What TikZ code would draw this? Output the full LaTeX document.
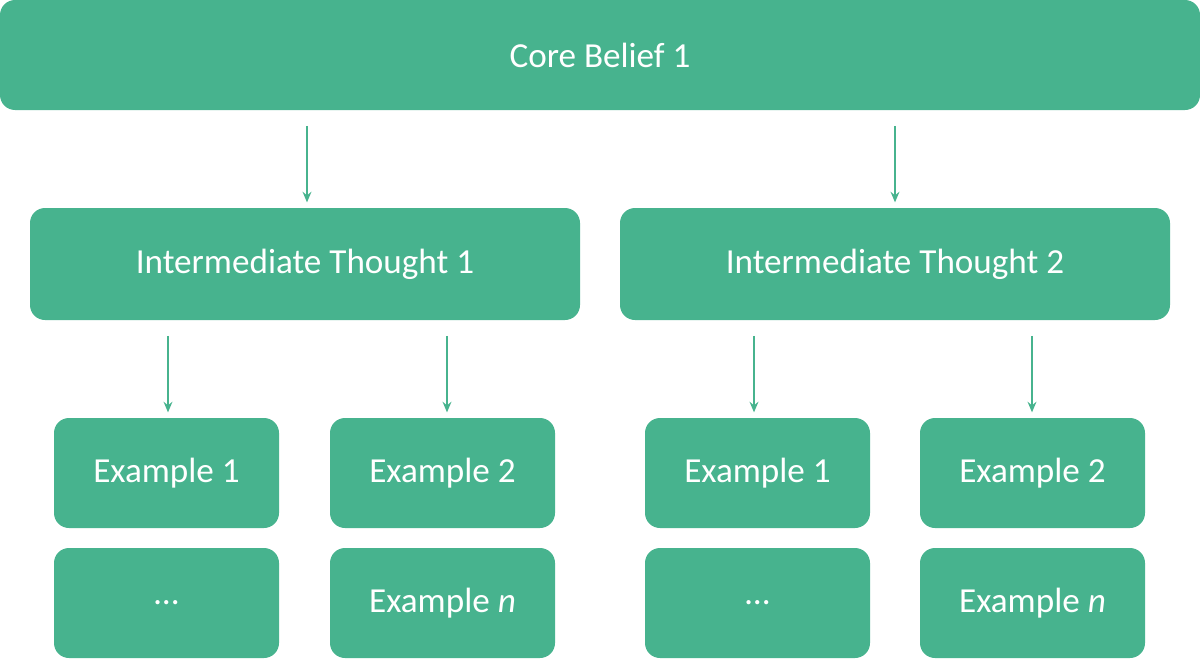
\documentclass[tikz,border=0pt]{standalone}
\usepackage{fontspec}
\setmainfont{Carlito}
\usetikzlibrary{arrows.meta}
\definecolor{gr}{HTML}{47B38E}
\begin{document}
\begin{tikzpicture}[x=0.02cm,y=-0.02cm,
  box/.style={fill=gr,rounded corners=0.3cm,text=white,font=\fontsize{20}{24}\selectfont,inner sep=0},
  arr/.style={draw=gr,line width=1.2pt,-{Stealth[length=6pt,width=5pt]},shorten <=9pt*0.567/0.567,shorten >=3pt}]
\useasboundingbox (0,0) rectangle (1200,659);
\newcommand\bx[6]{\node[box,minimum width=#4*0.02cm,minimum height=#5*0.02cm] (#1) at (#2,#3) {#6};}
\bx{core}{600}{55}{1200}{110}{Core Belief 1}
\bx{it1}{305}{264}{550}{112}{Intermediate Thought 1}
\bx{it2}{895}{264}{550}{112}{Intermediate Thought 2}
\bx{a1}{166.5}{473}{225}{110}{Example 1}
\bx{a2}{442.5}{473}{225}{110}{Example 2}
\bx{a3}{166.5}{603}{225}{110}{\dots}
\bx{a4}{442.5}{603}{225}{110}{Example \textit{n}}
\bx{b1}{757.5}{473}{225}{110}{Example 1}
\bx{b2}{1032.5}{473}{225}{110}{Example 2}
\bx{b3}{757.5}{603}{225}{110}{\dots}
\bx{b4}{1032.5}{603}{225}{110}{Example \textit{n}}
\coordinate (c1) at (307,110); \coordinate (c2) at (895,110);
\draw[arr] (c1) -- (c1 |- it1.north);
\draw[arr] (c2) -- (c2 |- it2.north);
\coordinate (d1) at (168,320); \coordinate (d2) at (447,320);
\coordinate (d3) at (754,320); \coordinate (d4) at (1032,320);
\draw[arr] (d1) -- (d1 |- a1.north);
\draw[arr] (d2) -- (d2 |- a2.north);
\draw[arr] (d3) -- (d3 |- b1.north);
\draw[arr] (d4) -- (d4 |- b2.north);
\end{tikzpicture}
\end{document}
